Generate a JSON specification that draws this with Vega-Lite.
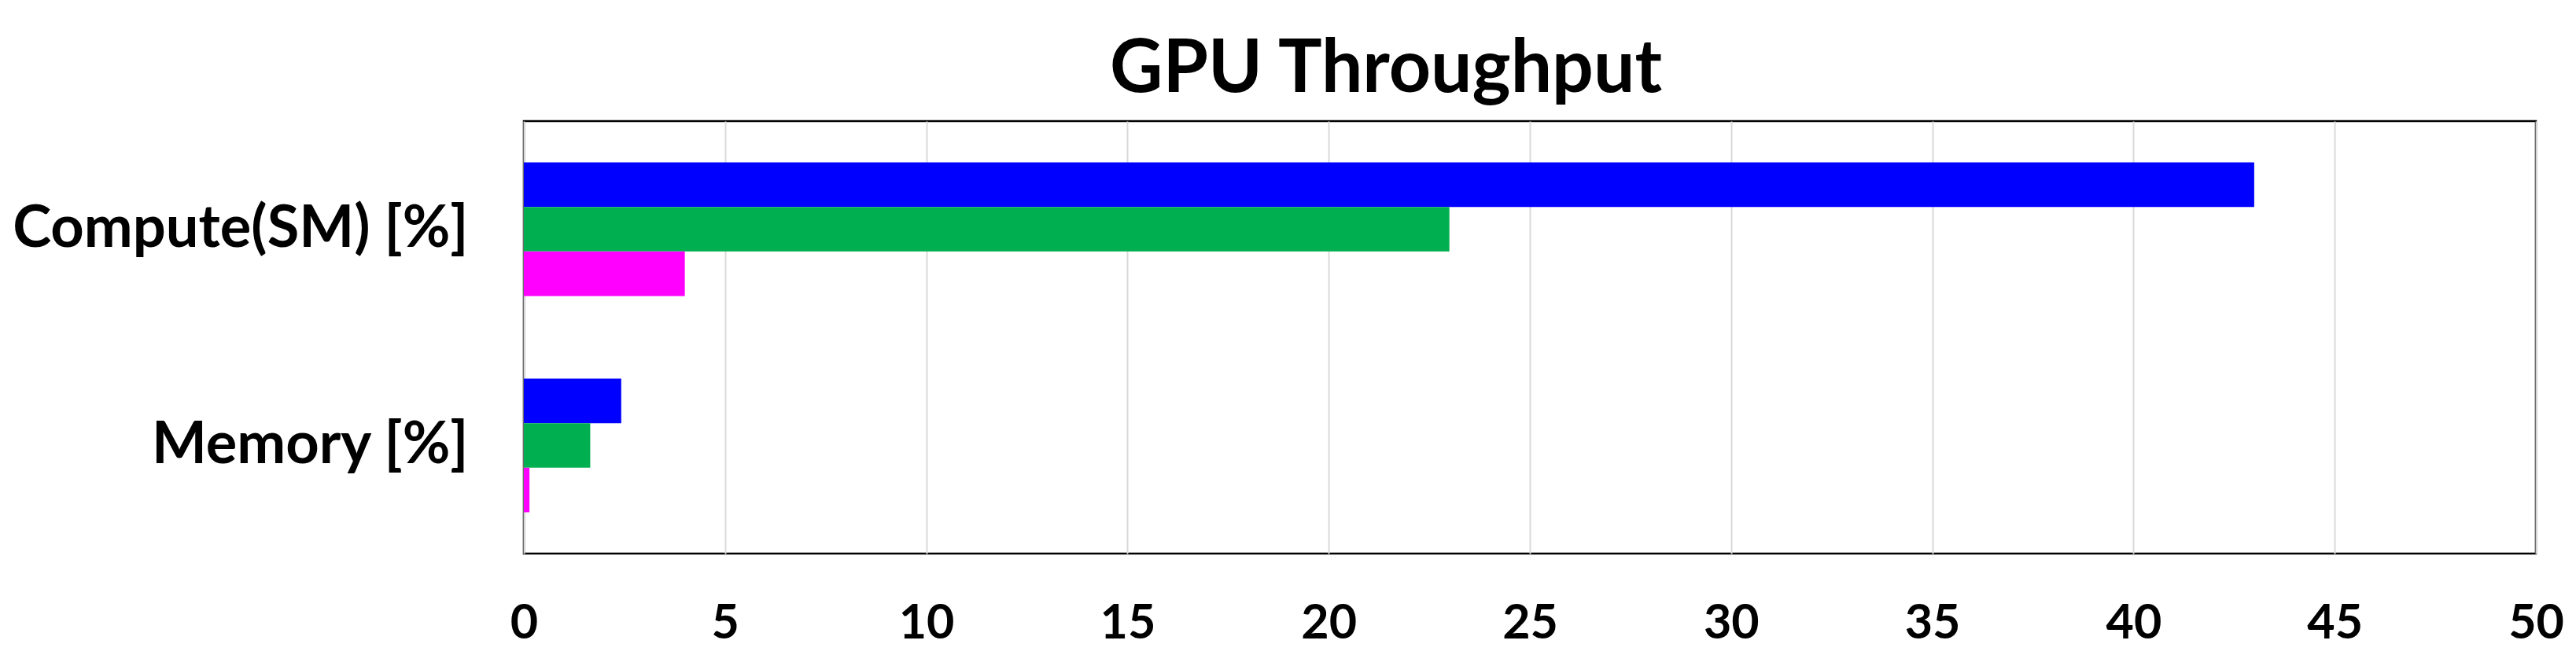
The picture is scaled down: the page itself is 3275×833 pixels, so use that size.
{
  "$schema": "https://vega.github.io/schema/vega-lite/v6.json",
  "autosize": "none",
  "padding": {"left": 666, "top": 154, "right": 51, "bottom": 129},
  "width": 2558,
  "height": 550,
  "background": "white",
  "title": {
    "text": "GPU Throughput",
    "font": "Lato",
    "fontSize": 93,
    "fontWeight": "bold",
    "color": "black",
    "baseline": "bottom",
    "anchor": "middle",
    "offset": -76,
    "dx": -183
  },
  "data": {
    "values": [
      {"metric": "Compute(SM) [%]", "series": "Series 1", "value": 43},
      {"metric": "Compute(SM) [%]", "series": "Series 2", "value": 23},
      {"metric": "Compute(SM) [%]", "series": "Series 3", "value": 4},
      {"metric": "Memory [%]", "series": "Series 1", "value": 2.42},
      {"metric": "Memory [%]", "series": "Series 2", "value": 1.65},
      {"metric": "Memory [%]", "series": "Series 3", "value": 0.14}
    ]
  },
  "mark": {"type": "bar"},
  "encoding": {
    "y": {
      "field": "metric",
      "type": "nominal",
      "sort": null,
      "title": null,
      "scale": {"paddingInner": 0.382, "paddingOuter": 0.191},
      "axis": {
        "domain": false,
        "ticks": false,
        "tickSize": 0,
        "labelPadding": 71,
        "labelFont": "Lato",
        "labelFontSize": 74,
        "labelFontWeight": "bold",
        "labelColor": "black",
        "labelLimit": 1000
      }
    },
    "yOffset": {
      "field": "series",
      "type": "nominal",
      "sort": ["Series 1", "Series 2", "Series 3"],
      "scale": {"paddingInner": 0, "paddingOuter": 0}
    },
    "x": {
      "field": "value",
      "type": "quantitative",
      "title": null,
      "scale": {"domain": [0, 50], "nice": false},
      "axis": {
        "values": [0, 5, 10, 15, 20, 25, 30, 35, 40, 45, 50],
        "domain": false,
        "ticks": false,
        "tickSize": 0,
        "grid": true,
        "gridColor": "#D9D9D9",
        "gridWidth": 2,
        "labelFlush": false,
        "labelOverlap": false,
        "labelBaseline": "alphabetic",
        "labelPadding": 107,
        "labelFont": "Lato",
        "labelFontSize": 61,
        "labelFontWeight": "bold",
        "labelColor": "black"
      }
    },
    "color": {
      "field": "series",
      "type": "nominal",
      "sort": ["Series 1", "Series 2", "Series 3"],
      "scale": {"domain": ["Series 1", "Series 2", "Series 3"], "range": ["#0000FF", "#00B050", "#FF00FF"]},
      "legend": null
    }
  },
  "config": {
    "view": {"stroke": "black", "strokeWidth": 2.5}
  }
}
